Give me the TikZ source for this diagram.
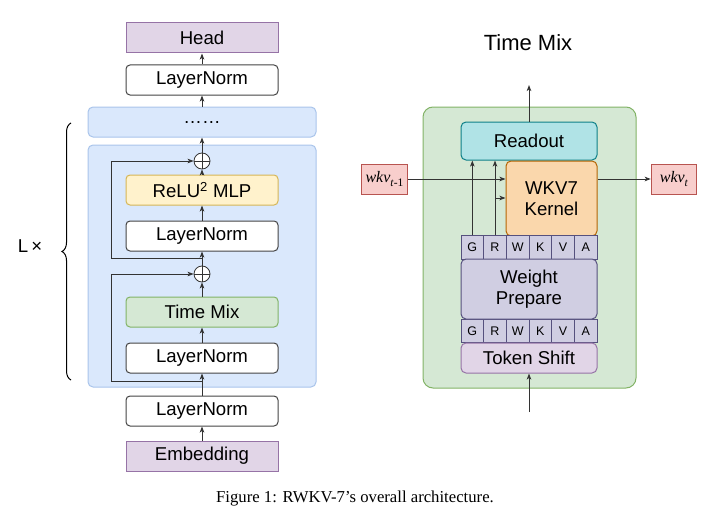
\documentclass[tikz,border=0pt]{standalone}
\usepackage{fontspec}
\setmainfont{Liberation Serif}
\setsansfont{Liberation Sans}
\usetikzlibrary{arrows.meta,decorations.pathreplacing,calc}
\definecolor{purF}{HTML}{E1D5E7}\definecolor{purS}{HTML}{9673A6}
\definecolor{bluF}{HTML}{DAE8FC}\definecolor{bluS}{HTML}{A9C4EB}
\definecolor{yelF}{HTML}{FFF2CC}\definecolor{yelS}{HTML}{D6B656}
\definecolor{grnF}{HTML}{D5E8D4}\definecolor{grnS}{HTML}{82B366}
\definecolor{cyaF}{HTML}{B0E3E6}\definecolor{cyaS}{HTML}{0E8088}
\definecolor{orgF}{HTML}{FAD7AC}\definecolor{orgS}{HTML}{B46504}
\definecolor{redF}{HTML}{F8CECC}\definecolor{redS}{HTML}{B85450}
\definecolor{lavF}{HTML}{D0CEE2}\definecolor{lavS}{HTML}{56517E}
\definecolor{lnS}{HTML}{444444}
\definecolor{wire}{HTML}{333333}
\tikzset{
  base/.style={inner sep=0pt, align=center, line width=1pt, font=\sffamily\fontsize{18.6}{21.5}\selectfont},
  colbox/.style={base, minimum width=152pt, minimum height=30pt},
  lnbox/.style={colbox, draw=lnS, fill=white, rounded corners=4pt},
  purbox/.style={colbox, draw=purS, fill=purF},
  cont/.style={draw=bluS, fill=bluF, line width=1pt, rounded corners=5pt, minimum width=228pt, inner sep=0pt},
  cell/.style={base, draw=lavS, fill=lavF, minimum width=22.67pt, minimum height=23.5pt, font=\sffamily\fontsize{12.5}{14}\selectfont},
  wkvbox/.style={base, draw=redS, fill=redF, minimum width=45.5pt, minimum height=30pt, font=\fontsize{16}{17}\selectfont},
  plusnode/.style={circle, draw=wire, fill=white, line width=0.8pt, minimum size=16pt, inner sep=0pt,
    path picture={\draw[wire, line width=0.8pt] (path picture bounding box.north) -- (path picture bounding box.south)
      (path picture bounding box.west) -- (path picture bounding box.east);}},
  arr/.style={draw=wire, line width=1pt, -{Stealth[length=6pt,width=4.5pt,inset=1.5pt]}},
}
\begin{document}
\begin{tikzpicture}[x=1pt,y=-1pt]
\useasboundingbox (0,0) rectangle (720,519);
% ---------- left column ----------
\node[cont, minimum height=30pt] (dots) at (202,122) {};
\node[base] (dotstext) at (202,123) {……};
\node[cont, minimum height=242pt] (block) at (202,266) {};
\node[purbox] (head) at (202,38) {Head};
\node[lnbox] (ln0) at (202,80) {LayerNorm};
\node[plusnode] (p1) at (202,161) {};
\node[colbox, draw=yelS, fill=yelF, rounded corners=4pt] (mlp) at (202,190) {ReLU\textsuperscript{2} MLP};
\node[lnbox] (ln1) at (202,236) {LayerNorm};
\node[plusnode] (p2) at (202,274) {};
\node[colbox, draw=grnS, fill=grnF, rounded corners=4pt] (tm) at (202,312) {Time Mix};
\node[lnbox] (ln2) at (202,358) {LayerNorm};
\node[lnbox] (ln3) at (202,411) {LayerNorm};
\node[purbox] (emb) at (202,456) {Embedding};
\coordinate (br1) at (202,258);
\coordinate (cr1) at (111,258);
\coordinate (br2) at (202,381);
\coordinate (cr2) at (111,381);
\draw[arr] (emb) -- (ln3);
\draw[arr] (ln3) -- (ln2);
\draw[arr] (ln2) -- (tm);
\draw[arr] (tm) -- (p2);
\draw[arr] (p2) -- (ln1);
\draw[arr] (ln1) -- (mlp);
\draw[arr] (mlp) -- (p1);
\draw[arr] (p1) -- (dots);
\draw[arr] (dots) -- (ln0);
\draw[arr] (ln0) -- (head);
\draw[arr] (br1) -- (cr1) |- (p1.west);
\draw[arr] (br2) -- (cr2) |- (p2.west);
% brace
\draw[line width=1pt, decorate, decoration={brace, amplitude=9pt}] (71,380) -- (71,123) coordinate[midway] (bm);
\node[base] (lx) at (30,246) {L\,\texttimes};
% ---------- right: Time Mix ----------
\node[base, font=\sffamily\fontsize{22}{24}\selectfont] (title) at (528,43) {Time Mix};
\node[draw=grnS, fill=grnF, line width=1pt, rounded corners=10pt, minimum width=213pt, minimum height=281pt, inner sep=0pt] (tmc) at (529.5,247.5) {};
\node[base, draw=cyaS, fill=cyaF, rounded corners=5pt, minimum width=136pt, minimum height=38pt] (ro) at (529,141) {Readout};
\node[base, draw=orgS, fill=orgF, rounded corners=5pt, minimum width=91pt, minimum height=75pt] (ker) at (551.5,198.5) {WKV7\\[-1pt]Kernel};
\foreach \l [count=\i] in {G,R,W,K,V,A}{
  \node[cell] (c1\i) at ({461+22.667*(\i-0.5)},247.5) {\l};
  \node[cell] (c2\i) at ({461+22.667*(\i-0.5)},331) {\l};
}
\node[base, draw=lavS, fill=lavF, rounded corners=5pt, minimum width=136pt, minimum height=60pt] (wp) at (529,289) {Weight\\[-1pt]Prepare};
\node[base, draw=purS, fill=purF, rounded corners=5pt, minimum width=136pt, minimum height=30pt] (ts) at (529,358) {Token Shift};
\node[wkvbox] (wp1) at (384.5,179) {\textit{wkv}\raisebox{-3.5pt}{\fontsize{11.5}{12}\selectfont\textit{t}-1}};
\node[wkvbox] (wt) at (674,179) {\textit{wkv}\raisebox{-3.5pt}{\fontsize{11.5}{12}\selectfont\textit{t}}};
\coordinate (inp) at (529,412);
\coordinate (outp) at (529,85);
\coordinate (rb) at (c12.north |- 0,198);
\draw[arr] (inp) -- (ts);
\draw[arr] (ro) -- (outp);
\draw[arr] (c11.north) -- (c11.north |- ro.south);
\draw[arr] (c12.north) -- (c12.north |- ro.south);
\draw[arr] (rb) -- (rb -| ker.west);
\draw[arr] (wp1) -- (wp1 -| ker.west);
\draw[arr] (ker.east |- wt) -- (wt);
% caption
\node[inner sep=0pt, font=\fontsize{16.7}{18}\selectfont] (cap) at (355,499) {Figure 1: RWKV-7’s overall architecture.};
\end{tikzpicture}
\end{document}
